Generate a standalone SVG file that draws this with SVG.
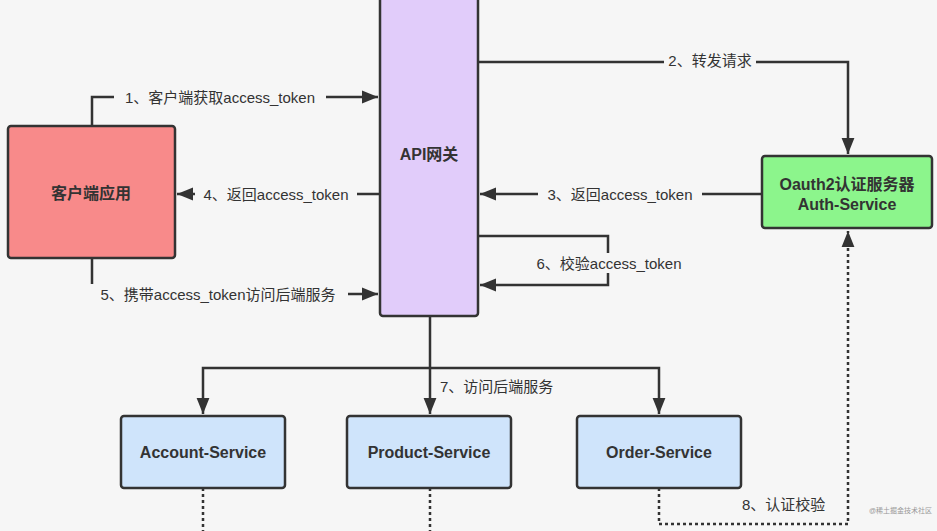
<svg xmlns="http://www.w3.org/2000/svg" width="937" height="531" viewBox="0 0 937 531">
<defs>
<marker id="ah2" viewBox="0 0 10 10" refX="10" refY="5" markerWidth="16" markerHeight="16" markerUnits="userSpaceOnUse" orient="auto"><path d="M0,1 L10,5 L0,9 z" fill="#333"/></marker>
<style>
.n{stroke:#333;stroke-width:2.5}
.t{font-family:"Liberation Sans","Noto Sans CJK SC",sans-serif;font-weight:bold;font-size:16px;fill:#333;text-anchor:middle}
.l{font-family:"Liberation Sans","Noto Sans CJK SC",sans-serif;font-size:15px;fill:#333;text-anchor:middle}
.s{text-anchor:start}
.c{fill:none;stroke:#333;stroke-width:2.5}
.d{fill:none;stroke:#333;stroke-width:2.5;stroke-dasharray:3 3}
.bg{fill:#f6f6f6}
</style>
</defs>
<rect width="937" height="531" fill="#f6f6f6"/>
<g id="connectors">
<path class="c" d="M92,126 V97 H378" marker-end="url(#ah2)"/>
<path class="c" d="M380,194 H177" marker-end="url(#ah2)"/>
<path class="c" d="M92,258 V294 H378" marker-end="url(#ah2)"/>
<path class="c" d="M478,62 H848 V154" marker-end="url(#ah2)"/>
<path class="c" d="M762,194 H480" marker-end="url(#ah2)"/>
<path class="c" d="M478,236 H608 V285 H480" marker-end="url(#ah2)"/>
<path class="c" d="M430,316 V414" marker-end="url(#ah2)"/>
<path class="c" d="M430,368 H203 V414" marker-end="url(#ah2)"/>
<path class="c" d="M430,368 H659 V414" marker-end="url(#ah2)"/>
<path class="d" d="M203,488 V531 M430,488 V531"/>
<path class="d" d="M659,488 V524 H848 V231" marker-end="url(#ah2)"/>
<rect class="bg" x="114" y="87" width="212" height="20"/>
<text class="l" x="220" y="103">1、客户端获取access_token</text>
<rect class="bg" x="195" y="184" width="162" height="20"/>
<text class="l" x="276" y="200">4、返回access_token</text>
<rect class="bg" x="88" y="284" width="260" height="20"/>
<text class="l" x="218" y="300">5、携带access_token访问后端服务</text>
<rect class="bg" x="664" y="52" width="92" height="20"/>
<text class="l" x="710" y="66">2、转发请求</text>
<rect class="bg" x="538" y="184" width="164" height="20"/>
<text class="l" x="620" y="200">3、返回access_token</text>
<rect class="bg" x="526" y="253" width="166" height="20"/>
<text class="l" x="609" y="269">6、校验access_token</text>
<text class="l s" x="440" y="392">7、访问后端服务</text>
<text class="l s" x="742" y="510">8、认证校验</text>
</g>
<g id="gateway"><rect class="n" x="380" y="-5" width="98" height="321" rx="3" fill="#e1ccfa"/><text class="t" x="429" y="160">API网关</text></g>
<g id="client"><rect class="n" x="8" y="126" width="167" height="132" rx="3" fill="#f88a8a"/><text class="t" x="91" y="199">客户端应用</text></g>
<g id="auth"><rect class="n" x="762" y="156" width="170" height="72" rx="3" fill="#8cf58c"/><text class="t" x="847" y="190">Oauth2认证服务器</text><text class="t" x="847" y="210">Auth-Service</text></g>
<g id="account"><rect class="n" x="121" y="416" width="164" height="72" rx="3" fill="#cfe4fb"/><text class="t" x="203" y="458">Account-Service</text></g>
<g id="product"><rect class="n" x="347" y="416" width="164" height="72" rx="3" fill="#cfe4fb"/><text class="t" x="429" y="458">Product-Service</text></g>
<g id="order"><rect class="n" x="577" y="416" width="164" height="72" rx="3" fill="#cfe4fb"/><text class="t" x="659" y="458">Order-Service</text></g>
<text x="932" y="513" font-family="Liberation Sans,Noto Sans CJK SC,sans-serif" font-size="7" fill="#999" text-anchor="end">@稀土掘金技术社区</text>
</svg>
